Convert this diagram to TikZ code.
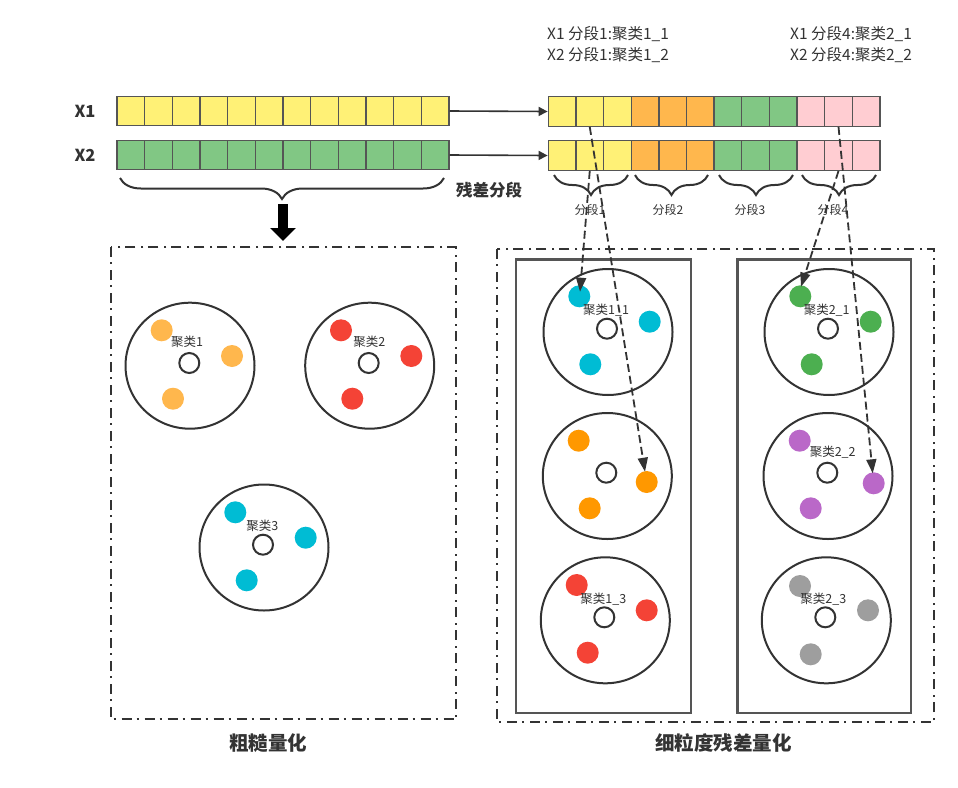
\documentclass[tikz,border=0pt]{standalone}
\usepackage{fontspec}
\setmainfont{Noto Sans CJK SC}
\usetikzlibrary{arrows.meta,decorations.pathreplacing,shapes.geometric}
\definecolor{cyel}{HTML}{FFF176}
\definecolor{cgrn}{HTML}{81C784}
\definecolor{corg}{HTML}{FFB74D}
\definecolor{cpnk}{HTML}{FFCDD2}
\definecolor{cbrd}{HTML}{555555}
\definecolor{ctxt}{HTML}{333333}
\definecolor{dlorg}{HTML}{FFB74D}
\definecolor{dred}{HTML}{F44336}
\definecolor{dcyan}{HTML}{00BCD4}
\definecolor{dorg}{HTML}{FF9800}
\definecolor{dgrn}{HTML}{4CAF50}
\definecolor{dpur}{HTML}{BA68C8}
\definecolor{dgry}{HTML}{9E9E9E}
\tikzset{
  cell/.style={draw=cbrd, line width=1.4pt, minimum width=27.67pt, minimum height=29.5pt, inner sep=0pt},
  cdot/.style={circle, fill=#1, minimum size=22pt, inner sep=0pt},
  clus/.style={ellipse, draw=ctxt, line width=2pt, minimum width=129pt, minimum height=126pt, inner sep=0pt},
  cent/.style={circle, draw=ctxt, line width=2pt, minimum size=20pt, inner sep=0pt},
  clab/.style={text=ctxt, font=\fontsize{12.5}{12.5}\selectfont, inner sep=0pt},
  seglab/.style={text=ctxt, font=\fontsize{12}{12}\selectfont, inner sep=0pt},
  toplab/.style={text=ctxt, font=\fontsize{15.5}{15.5}\selectfont, inner sep=0pt, anchor=west},
  rowlab/.style={text=ctxt, font=\bfseries\fontsize{16.5}{16.5}\selectfont, inner sep=0pt},
  bigtitle/.style={text=ctxt, font=\bfseries\fontsize{19.5}{20}\selectfont, inner sep=0pt},
  panel/.style={draw=ctxt, line width=1.8pt, dash pattern=on 10pt off 5pt on 2pt off 6pt},
  column/.style={draw=cbrd, line width=2.4pt},
  brc/.style={draw=ctxt, line width=2pt, decorate, decoration={brace, mirror, amplitude=20pt}},
  dasharrow/.style={draw=ctxt, line width=1.8pt, dash pattern=on 8pt off 4pt, -{Triangle[length=14pt,width=10pt]}},
  solarrow/.style={draw=ctxt, line width=1.6pt, -{Triangle[length=9pt,width=9pt]}},
}
\begin{document}
\begin{tikzpicture}[x=1pt,y=-1pt]
\useasboundingbox[fill=white] (0,0) rectangle (958,787);

% ---------- row labels ----------
\node[rowlab] (lx1) at (85,111) {X1};
\node[rowlab] (lx2) at (85,155) {X2};

% ---------- left bars ----------
\foreach \i in {0,...,11} {
  \node[cell, fill=cyel] (A\i) at ({117+27.67*\i+13.835},111) {};
  \node[cell, fill=cgrn] (B\i) at ({117+27.67*\i+13.835},155) {};
}

% ---------- right bars ----------
\foreach \i/\c in {0/cyel,1/cyel,2/cyel,3/corg,4/corg,5/corg,6/cgrn,7/cgrn,8/cgrn,9/cpnk,10/cpnk,11/cpnk} {
  \node[cell, fill=\c] (C\i) at ({548.3+27.64*\i+13.82},111.5) {};
  \node[cell, fill=\c] (D\i) at ({548.3+27.64*\i+13.82},155.5) {};
}

% arrows between bars
\draw[solarrow] (A11.east) -- (C0.west);
\draw[solarrow] (B11.east) -- (D0.west);

% ---------- top texts ----------
\node[toplab] (t1) at (547,34) {X1 分段1:聚类1\_1};
\node[toplab] (t2) at (547,55) {X2 分段1:聚类1\_2};
\node[toplab] (t3) at (790,34) {X1 分段4:聚类2\_1};
\node[toplab] (t4) at (790,55) {X2 分段4:聚类2\_2};

% ---------- braces ----------
\draw[brc, decoration={amplitude=21pt}] (120,178) -- (444,178);
\node[text=ctxt, font=\bfseries\fontsize{16.5}{17}\selectfont, inner sep=0pt] (res) at (489,190) {残差分段};

\draw[brc] (554,175) -- (628,175);
\draw[brc] (635,175) -- (708,175);
\draw[brc] (719,175) -- (793,175);
\draw[brc] (802,175) -- (876,175);
\node[seglab] (s1) at (590,210) {分段1};
\node[seglab] (s2) at (668,210) {分段2};
\node[seglab] (s3) at (750,210) {分段3};
\node[seglab] (s4) at (833,210) {分段4};

% thick arrow
\coordinate (thS) at (283,204);
\coordinate (thE) at (283,241);
\draw[line width=10pt, draw=black, -{Triangle[length=13pt,width=25pt]}] (thS) -- (thE);

% ---------- panels ----------
\draw[panel] (110.7,247.3) rectangle (456,719.3);
\draw[panel] (497.3,249) rectangle (934.3,722);
\draw[column] (516,259.3) rectangle (690.7,712.7);
\draw[column] (737.3,259.3) rectangle (910.7,712.7);

% ---------- coarse clusters ----------
\node[clus] (K1) at (190,365.7) {};
\node[cent] (K1c) at (189.3,363) {};
\node[clab] (K1l) at (187,341.7) {聚类1};
\node[cdot=dlorg] (K1a) at (161.7,330.3) {};
\node[cdot=dlorg] (K1b) at (232,356) {};
\node[cdot=dlorg] (K1d) at (173,398.7) {};

\node[clus] (K2) at (369.7,365.7) {};
\node[cent] (K2c) at (368.7,363) {};
\node[clab] (K2l) at (369.3,341.7) {聚类2};
\node[cdot=dred] (K2a) at (341,330.3) {};
\node[cdot=dred] (K2b) at (411.3,356) {};
\node[cdot=dred] (K2d) at (352.3,398.7) {};

\node[clus] (K3) at (264,547.5) {};
\node[cent] (K3c) at (263,544.7) {};
\node[clab] (K3l) at (262.3,525.7) {聚类3};
\node[cdot=dcyan] (K3a) at (235.3,512.3) {};
\node[cdot=dcyan] (K3b) at (305.7,537.7) {};
\node[cdot=dcyan] (K3d) at (246.7,580.3) {};

% ---------- fine clusters column 1 ----------
\node[clus] (F11) at (608,332) {};
\node[cent] (F11c) at (607,328.7) {};
\node[cdot=dcyan] (F11a) at (579.3,296.3) {};
\node[cdot=dcyan] (F11b) at (649.7,321.7) {};
\node[cdot=dcyan] (F11d) at (590.3,364.3) {};
\node[clab] (F11l) at (606,310) {聚类1\_1};

\node[clus] (F12) at (607.3,476) {};
\node[cent] (F12c) at (606.3,472.7) {};
\node[cdot=dorg] (F12a) at (578.7,440.7) {};
\node[cdot=dorg] (F12b) at (646.7,482) {};
\node[cdot=dorg] (F12d) at (589.7,508.3) {};

\node[clus] (F13) at (605.3,620.3) {};
\node[cent] (F13c) at (604.3,617.3) {};
\node[cdot=dred] (F13a) at (576.7,585) {};
\node[cdot=dred] (F13b) at (646.7,610.3) {};
\node[cdot=dred] (F13d) at (587.7,652.7) {};
\node[clab] (F13l) at (603.3,599) {聚类1\_3};

% ---------- fine clusters column 2 ----------
\node[clus] (F21) at (829,332) {};
\node[cent] (F21c) at (828,328.7) {};
\node[cdot=dgrn] (F21a) at (800.3,296.3) {};
\node[cdot=dgrn] (F21b) at (870.7,321.7) {};
\node[cdot=dgrn] (F21d) at (811.7,364.3) {};
\node[clab] (F21l) at (826.7,310) {聚类2\_1};

\node[clus] (F22) at (828,476) {};
\node[cent] (F22c) at (827.3,472.7) {};
\node[cdot=dpur] (F22a) at (799.7,440.7) {};
\node[cdot=dpur] (F22b) at (873.7,483.3) {};
\node[cdot=dpur] (F22d) at (810.7,508.3) {};
\node[clab] (F22l) at (832.7,452) {聚类2\_2};

\node[clus] (F23) at (826.3,620.3) {};
\node[cent] (F23c) at (825.3,617.3) {};
\node[cdot=dgry] (F23a) at (800,586) {};
\node[cdot=dgry] (F23b) at (868,610.3) {};
\node[cdot=dgry] (F23d) at (810.7,654.3) {};
\node[clab] (F23l) at (823.3,599) {聚类2\_3};

% ---------- dashed arrows ----------
\coordinate (tipA) at (580,291.7);
\coordinate (tipB) at (645,471.7);
\coordinate (tipC) at (872.7,473.3);
\coordinate (tipD) at (801,286.7);
\draw[dasharrow] (D1.south) -- (tipA);
\draw[dasharrow] (C1.south) -- (tipB);
\draw[dasharrow] (C10.south) -- (tipC);
\draw[dasharrow] (D10.south) -- (tipD);

% ---------- titles ----------
\node[bigtitle] (T1) at (268.3,743.3) {粗糙量化};
\node[bigtitle] (T2) at (723.3,742.7) {细粒度残差量化};
\end{tikzpicture}
\end{document}
